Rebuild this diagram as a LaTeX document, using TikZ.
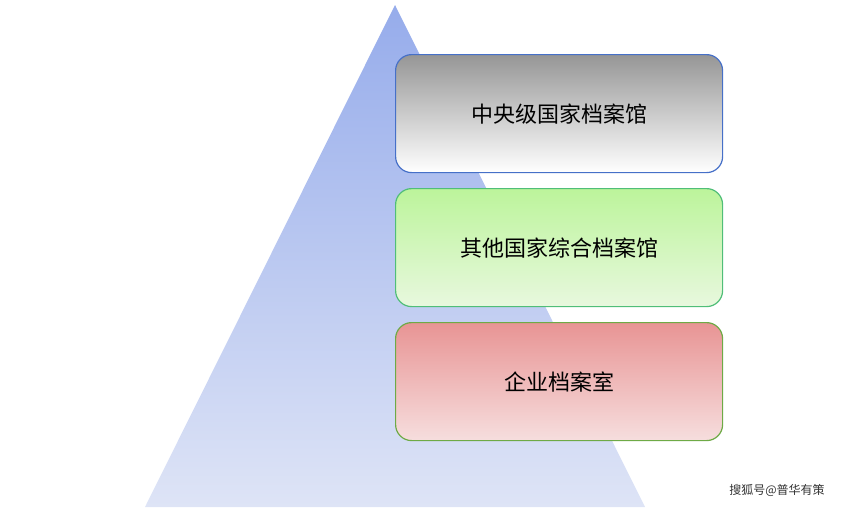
\documentclass[tikz,border=0pt]{standalone}
\usepackage{fontspec}
\newfontfamily\cjk{Noto Sans CJK SC}
\definecolor{triTop}{RGB}{150,172,235}
\definecolor{triBot}{RGB}{222,228,246}
\definecolor{grayTop}{RGB}{150,150,150}
\definecolor{greenTop}{RGB}{188,244,155}
\definecolor{greenBot}{RGB}{232,248,222}
\definecolor{redTop}{RGB}{232,148,148}
\definecolor{redBot}{RGB}{246,222,222}
\definecolor{blueLine}{RGB}{70,112,200}
\definecolor{greenLine}{RGB}{80,190,120}
\definecolor{oliveLine}{RGB}{110,170,70}
\tikzset{
  level/.style={draw,line width=1.2pt,rounded corners=16pt,minimum width=327pt,
    minimum height=118pt,anchor=north west,font=\cjk\fontsize{22}{26}\selectfont}
}
\begin{document}
\begin{tikzpicture}[x=1pt,y=-1pt]
    \useasboundingbox (0,0) rectangle (865,509);
    \shade[top color=triTop,bottom color=triBot] (395,5) -- (645,507) -- (145,507) -- cycle;
    \node[level,draw=blueLine,top color=grayTop,bottom color=white] (central) at (395,54) {中央级国家档案馆};
    \node[level,draw=greenLine,top color=greenTop,bottom color=greenBot] (general) at (395,188) {其他国家综合档案馆};
    \node[level,draw=oliveLine,top color=redTop,bottom color=redBot] (firm) at (395,322) {企业档案室};
    \node[font=\cjk\fontsize{12}{14}\selectfont,text=black!80] (mark) at (777,490) {搜狐号@普华有策};
\end{tikzpicture}
\end{document}
